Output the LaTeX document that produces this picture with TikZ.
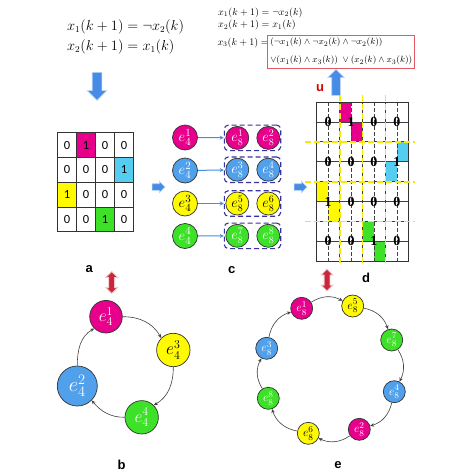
\documentclass[tikz,border=0pt]{standalone}
\usepackage{amsmath,amssymb}
\usepackage{fontspec}
\newfontfamily\carlito{Carlito}
\newfontfamily\tnr{Liberation Serif}
\newfontfamily\arialb{Liberation Sans}
\usetikzlibrary{shapes.arrows,arrows.meta}
\definecolor{mag}{RGB}{232,0,140}
\definecolor{cblue}{RGB}{80,160,235}
\definecolor{cyanc}{RGB}{85,205,240}
\definecolor{yel}{RGB}{255,250,0}
\definecolor{grn}{RGB}{60,225,40}
\definecolor{arrblue}{RGB}{70,140,230}
\definecolor{dred}{RGB}{200,40,60}
\definecolor{boxred}{RGB}{225,90,100}
\definecolor{dashblue}{RGB}{55,50,160}
\definecolor{ydash}{RGB}{245,235,0}
\begin{document}
\begin{tikzpicture}[x=1pt,y=-1pt,
  cir/.style={circle,draw=black!80,line width=0.7pt,inner sep=0pt,minimum size=#1},
  thinarr/.style={draw=black!75,line width=0.6pt,-{Stealth[length=4pt,width=3.5pt]}},
  barr/.style={single arrow,fill=arrblue,draw=arrblue!35,line width=0.6pt},
  rarr/.style={double arrow,fill=dred,draw=dred!25,line width=0.8pt,inner sep=2.5pt,double arrow head extend=3pt,minimum height=22pt,shape border rotate=90},
  pnl/.style={font=\arialb\bfseries\fontsize{13}{13}\selectfont},
  cella/.style={draw=black!80,line width=0.8pt,minimum width=19pt,minimum height=24.75pt,inner sep=0pt,font=\carlito\fontsize{12.5}{12.5}\selectfont},
  numd/.style={font=\tnr\bfseries\fontsize{14}{14}\selectfont,inner sep=0pt},
  dbox/.style={draw=dashblue,dash pattern=on 5pt off 3pt,rounded corners=4pt,line width=1.1pt,minimum width=56.4pt,minimum height=25.5pt,inner sep=0pt},
  carr/.style={draw=arrblue,line width=1pt,-{Stealth[length=4pt,width=4pt]}},
  yline/.style={draw=ydash,line width=1.8pt,dash pattern=on 6pt off 3pt},
]
\useasboundingbox (0,0) rectangle (474,474);
\fill[white] (0,0) rectangle (474,474);

% ---------- top-left equations
\node[anchor=west,inner sep=0pt,font=\fontsize{13.5}{15}\selectfont] (eqA1) at (67,27) {$x_1(k+1)=\neg x_2(k)$};
\node[anchor=west,inner sep=0pt,font=\fontsize{13.5}{15}\selectfont] (eqA2) at (67,47) {$x_2(k+1)=x_1(k)$};
\node[barr,inner sep=4.5pt,single arrow head extend=5pt,minimum height=28pt,shape border rotate=270] (downA) at (97,84) {};

% ---------- top-right equations
\node[anchor=west,inner sep=0pt,font=\fontsize{10}{11}\selectfont] (eqB1) at (218,12.7) {$x_1(k+1)=\neg x_2(k)$};
\node[anchor=west,inner sep=0pt,font=\fontsize{10}{11}\selectfont] (eqB2) at (218,25) {$x_2(k+1)=x_1(k)$};
\node[anchor=east,inner sep=0pt,font=\fontsize{10}{11}\selectfont] (eqB3) at (269,42.7) {$x_3(k+1)=$};
\node[draw=boxred,line width=0.9pt,minimum width=142.7pt,minimum height=33.3pt,inner sep=2.5pt,align=left,font=\fontsize{9.5}{18}\selectfont] (eqBox) at (341.3,51.7)
  {$(\neg x_1(k)\wedge\neg x_2(k)\wedge\neg x_2(k))$\\$\vee(x_1(k)\wedge x_3(k))\;\vee(x_2(k)\wedge x_3(k))$};

% ---------- grid a
\fill[mag] (76.5,132.7) rectangle (95.5,157.45);
\fill[cyanc] (114.5,157.45) rectangle (133.5,182.2);
\fill[yel] (57.5,182.2) rectangle (76.5,206.95);
\fill[grn] (95.5,206.95) rectangle (114.5,231.7);
\foreach \row [count=\r] in {{0,1,0,0},{0,0,0,1},{1,0,0,0},{0,0,1,0}}{
  \foreach \v [count=\c] in \row {
    \node[cella] (a\r\c) at ({57.5+(\c-0.5)*19},{132.7+(\r-0.5)*24.75}) {\v};
  }
}
\node[pnl] (labA) at (89.3,269) {a};
\node[barr,inner sep=3pt,single arrow head extend=2.5pt,minimum height=13pt] (rA) at (157,187) {};

% ---------- panel c
\node[cir=25pt,fill=mag,text=white,font=\fontsize{15}{15}\selectfont] (cL1) at (185,137.5) {$e_4^1$};
\node[cir=25pt,fill=cblue,text=white,font=\fontsize{15}{15}\selectfont] (cL2) at (185,170.5) {$e_4^2$};
\node[cir=25pt,fill=yel,text=black,font=\fontsize{15}{15}\selectfont] (cL3) at (185,203.5) {$e_4^3$};
\node[cir=25pt,fill=grn,text=white,font=\fontsize{15}{15}\selectfont] (cL4) at (185,236) {$e_4^4$};
\node[dbox] (box1) at (252.5,137.9) {};
\node[dbox] (box2) at (252.5,169.7) {};
\node[dbox] (box3) at (252.5,203.5) {};
\node[dbox] (box4) at (252.5,235.8) {};
\node[cir=23pt,fill=mag,text=white,font=\fontsize{14}{14}\selectfont] (cR1) at (237.3,137.9) {$e_8^1$};
\node[cir=23pt,fill=mag,text=white,font=\fontsize{14}{14}\selectfont] (cR2) at (268.3,137.9) {$e_8^2$};
\node[cir=23pt,fill=cblue,text=white,font=\fontsize{14}{14}\selectfont] (cR3) at (237.3,169.7) {$e_8^3$};
\node[cir=23pt,fill=cblue,text=white,font=\fontsize{14}{14}\selectfont] (cR4) at (268.3,169.7) {$e_8^4$};
\node[cir=23pt,fill=yel,text=black,font=\fontsize{14}{14}\selectfont] (cR5) at (237.3,203.5) {$e_8^5$};
\node[cir=23pt,fill=yel,text=black,font=\fontsize{14}{14}\selectfont] (cR6) at (268.3,203.5) {$e_8^6$};
\node[cir=23pt,fill=grn,text=white,font=\fontsize{14}{14}\selectfont] (cR7) at (237.3,235.8) {$e_8^7$};
\node[cir=23pt,fill=grn,text=white,font=\fontsize{14}{14}\selectfont] (cR8) at (268.3,235.8) {$e_8^8$};
\draw[carr] (cL1) -- (box1);
\draw[carr] (cL2) -- (box2);
\draw[carr] (cL3) -- (box3);
\draw[carr] (cL4) -- (box4);
\node[pnl] (labC) at (231.7,270) {c};
\node[barr,inner sep=3pt,single arrow head extend=2.5pt,minimum height=13pt] (rC) at (299,187) {};

% ---------- grid d  (left 316.7, top 102, cell 11.45 x 19.9)
\fill[mag] (339.6,102) rectangle (351.05,121.9);
\fill[mag] (351.05,121.9) rectangle (362.5,141.8);
\fill[cyanc] (396.85,141.8) rectangle (408.3,161.7);
\fill[cyanc] (385.4,161.7) rectangle (396.85,181.6);
\fill[yel] (316.7,181.6) rectangle (328.15,201.5);
\fill[yel] (328.15,201.5) rectangle (339.6,221.4);
\fill[grn] (362.5,221.4) rectangle (373.95,241.3);
\fill[grn] (373.95,241.3) rectangle (385.4,261.2);
\foreach \yy in {121.9,141.8,161.7,181.6,201.5,221.4,241.3}{
  \draw[black!75,line width=0.7pt] (316.7,\yy) -- (408.3,\yy);
}
\foreach \xx in {339.6,362.5,385.4}{
  \draw[black!75,line width=0.7pt] (\xx,102) -- (\xx,261.2);
}
\foreach \xx in {328.15,351.05,373.95,396.85}{
  \draw[black!75,line width=0.7pt,dash pattern=on 4pt off 2pt] (\xx,102) -- (\xx,261.2);
}
\draw[black!80,line width=0.9pt] (316.7,102) rectangle (408.3,261.2);
\draw[yline] (305,141.8) -- (415,141.8);
\draw[yline] (305,181.6) -- (415,181.6);
\draw[yline] (305,221.4) -- (415,221.4);
\draw[yline] (339.6,95) -- (339.6,264);
\draw[yline] (362.5,95) -- (362.5,264);
\draw[yline] (385.4,95) -- (385.4,264);
\foreach \row [count=\r] in {{0,1,0,0},{0,0,0,1},{1,0,0,0},{0,0,1,0}}{
  \foreach \v [count=\c] in \row {
    \node[numd] (d\r\c) at ({316.7+(2*\c-1)*11.45},{102+(2*\r-1)*19.9}) {\v};
  }
}
\node[text=red!85!black,pnl] (u) at (320,88) {u};
\node[barr,inner sep=4pt,single arrow head extend=4pt,minimum height=26pt,shape border rotate=90] (upD) at (336,84.5) {};
\node[pnl] (labD) at (366,278) {d};

% ---------- double red arrows
\node[rarr] (ab) at (111.7,282.5) {};
\node[rarr] (de) at (327,280) {};

% ---------- panel b
\node[cir=32.6pt,fill=mag,text=white,font=\fontsize{18}{18}\selectfont] (b1) at (106,316.7) {$e_4^1$};
\node[cir=33.4pt,fill=yel,text=black,font=\fontsize{18}{18}\selectfont] (b3) at (173.3,350) {$e_4^3$};
\node[cir=40pt,fill=cblue,text=white,font=\fontsize{20}{20}\selectfont] (b2) at (77.3,386) {$e_4^2$};
\node[cir=33.4pt,fill=grn,text=white,font=\fontsize{18}{18}\selectfont] (b4) at (141.7,417.3) {$e_4^4$};
\draw[thinarr] (b1.east) to[out=0,in=120] (b3.north west);
\draw[thinarr] (b3.south) to[out=270,in=30] (b4.north east);
\draw[thinarr] (b4.west) to[out=180,in=-50] (b2.south east);
\draw[thinarr] (b2.north) to[out=90,in=210] (b1.south west);
\node[pnl] (labB) at (121.7,465) {b};

% ---------- panel e
\node[cir=22pt,fill=mag,text=white,font=\fontsize{13}{13}\selectfont] (e1) at (301.7,308.3) {$e_8^1$};
\node[cir=22pt,fill=yel,text=black,font=\fontsize{13}{13}\selectfont] (e5) at (352.7,306) {$e_8^5$};
\node[cir=22pt,fill=grn,text=white,font=\fontsize{13}{13}\selectfont] (e7) at (391.7,340) {$e_8^7$};
\node[cir=22pt,fill=cblue,text=white,font=\fontsize{13}{13}\selectfont] (e4) at (394.3,391.7) {$e_8^4$};
\node[cir=22pt,fill=mag,text=white,font=\fontsize{13}{13}\selectfont] (e2) at (359.3,429.3) {$e_8^2$};
\node[cir=22pt,fill=yel,text=black,font=\fontsize{13}{13}\selectfont] (e6) at (308.3,433.3) {$e_8^6$};
\node[cir=22pt,fill=grn,text=white,font=\fontsize{13}{13}\selectfont] (e8) at (268.3,398.3) {$e_8^8$};
\node[cir=22pt,fill=cblue,text=white,font=\fontsize{13}{13}\selectfont] (e3) at (266.7,348.3) {$e_8^3$};
\draw[thinarr] (e1) to[bend left=30] (e5);
\draw[thinarr] (e5) to[bend left=30] (e7);
\draw[thinarr] (e7) to[bend left=30] (e4);
\draw[thinarr] (e4) to[bend left=30] (e2);
\draw[thinarr] (e2) to[bend left=30] (e6);
\draw[thinarr] (e6) to[bend left=30] (e8);
\draw[thinarr] (e8) to[bend left=30] (e3);
\draw[thinarr] (e3) to[bend left=30] (e1);
\node[pnl] (labE) at (338,465) {e};
\end{tikzpicture}
\end{document}
